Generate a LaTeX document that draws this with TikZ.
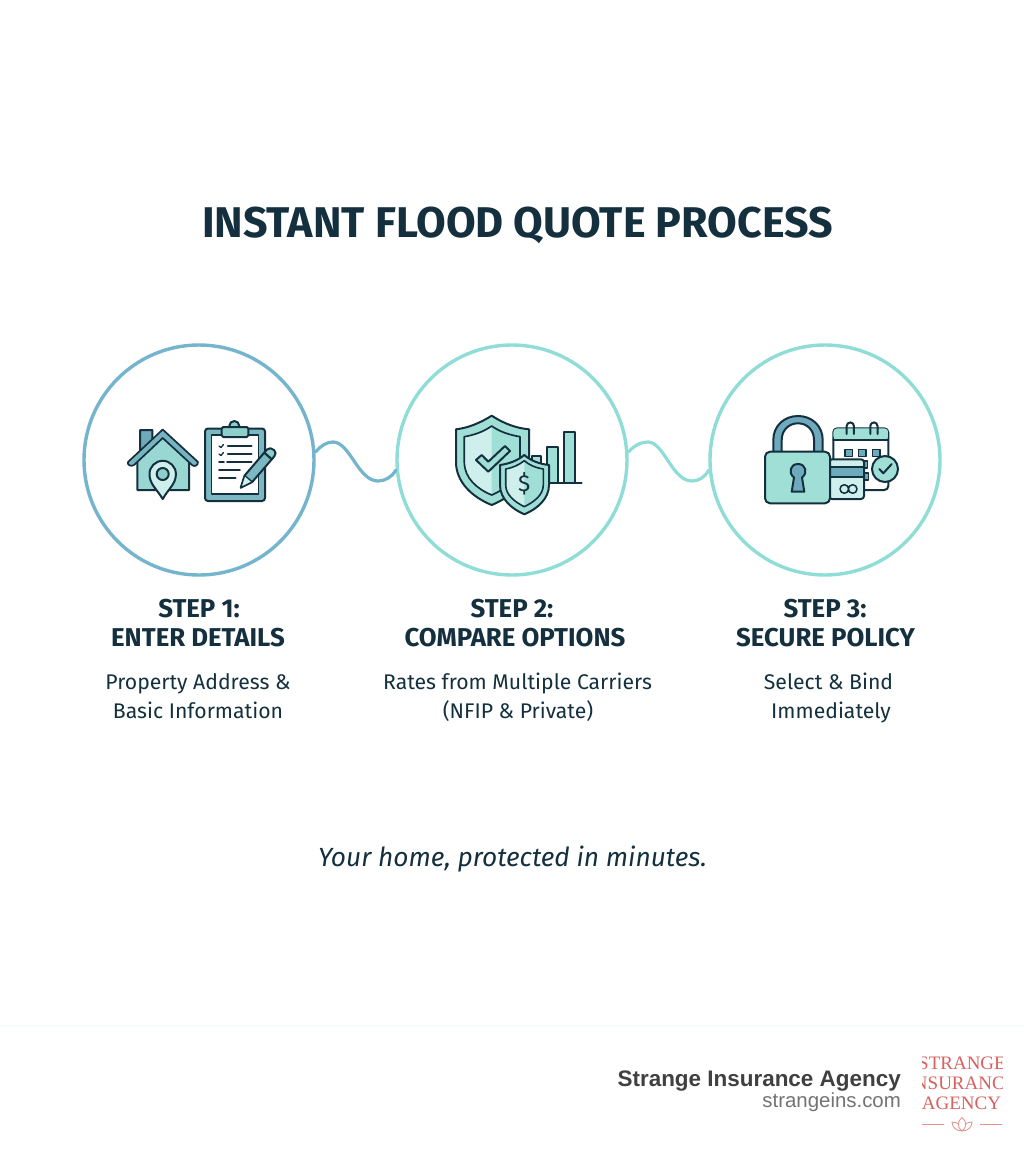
\documentclass[tikz,border=0pt]{standalone}
\usepackage{fontspec}
\setmainfont{Fira Sans}
\newfontfamily\footfont{Liberation Sans}
\newfontfamily\logofont{Liberation Serif}
\usetikzlibrary{calc}
\definecolor{ink}{HTML}{14303F}
\definecolor{blueline}{HTML}{74B4CC}
\definecolor{tealline}{HTML}{8FDDD6}
\definecolor{tealfill}{HTML}{9FDFD6}
\definecolor{tealmid}{HTML}{8CCFCB}
\definecolor{teallight}{HTML}{CFEFEC}
\definecolor{steel}{HTML}{6FA9BC}
\definecolor{logored}{HTML}{D9605F}
\tikzset{
 ring/.style={circle,draw,line width=3.4pt,minimum size=230pt,inner sep=0pt,fill=white},
 wave/.style={line width=3.2pt,line cap=round},
 ico/.style={draw=ink,line width=2pt,line join=round,line cap=round},
 head/.style={font=\fontsize{25.8}{30}\selectfont\bfseries,text=ink,anchor=base},
 body/.style={font=\fontsize{21.2}{29}\selectfont,text=ink,anchor=base},
 logotext/.style={font=\logofont\fontsize{19}{22}\selectfont,text=logored,inner sep=0pt,anchor=base},
}
\begin{document}
\begin{tikzpicture}[x=1pt,y=-1pt]
\useasboundingbox (0,0) rectangle (1024,1154);
\fill[white] (0,0) rectangle (1024,1154);
\draw[line width=1pt,draw=cyan!5] (0,1025) -- (1024,1025);
% title
\node[font=\fontsize{43}{48}\selectfont\bfseries,text=ink,anchor=base] (title) at (517.5,237) {INSTANT FLOOD QUOTE PROCESS};
% rings
\node[ring,draw=blueline] (c1) at (199,460) {};
\node[ring,draw=tealline] (c2) at (512,460) {};
\node[ring,draw=tealline] (c3) at (825,460) {};
% waves
\draw[wave,draw=blueline] (c1.4) .. controls (322,445) and (327,442) .. (333,442) .. controls (350,442) and (358,481) .. (378,481) .. controls (385,481) and (392,477) .. (c2.185);
\draw[wave,draw=tealline] (c2.4) .. controls (635,445) and (641,442) .. (648,442) .. controls (664,442) and (672,481) .. (692,481) .. controls (699,481) and (705,477) .. (c3.185);
% house icon
\draw[ico,fill=steel] (140,451) -- (140,430) -- (152.3,430) -- (152.3,445) -- cycle;
\draw[ico,fill=tealfill!85!steel] (137.3,460) -- (162.7,437) -- (189,460) -- (189,490) -- (137.3,490) -- cycle;
\draw[ico,fill=steel!70!tealmid,line width=1.7pt] (128,462) -- (162.7,429.5) -- (198,462) .. controls (198,466) and (194,467) .. (192,465) -- (162.7,438) -- (134,465) .. controls (131,467) and (127,465) .. (128,462) -- cycle;
\draw[ico,fill=teallight] (162.7,499) .. controls (156,488) and (149.5,484) .. (149.5,474) arc[start angle=180,end angle=360,radius=13.2] .. controls (175.9,484) and (169,488) .. (162.7,499) -- cycle;
\draw[ico,fill=tealmid] (162.7,474) circle[radius=6];
% clipboard icon
\draw[ico,fill=steel!60!tealmid,rounded corners=3pt] (205,428.5) rectangle (265,501);
\draw[ico,fill=white,line width=1.5pt] (211.7,435) rectangle (258.3,494);
\draw[ico,fill=tealmid] (234.3,426) circle[radius=5];
\draw[ico,fill=tealmid,rounded corners=1.5pt] (221.7,427) rectangle (248.3,437);
\draw[ico,line width=1.3pt] (219,446) -- (221,447.5) -- (223.5,444.5) (219,454) -- (221,455.5) -- (223.5,452.5);
\draw[ico,line width=1.6pt] (227.7,446) -- (251.7,446) (227.7,454) -- (251.7,454) (219,462) -- (224,462) (227,462) -- (251.7,462) (219,470) -- (240,470) (219,477.7) -- (235.7,477.7);
\draw[ico,fill=steel!60!tealmid] (240.7,487.7) -- (244.7,475.4) -- (264.3,452.6) -- (271.9,459.2) -- (252.3,481.9) -- cycle;
\draw[ico,fill=tealmid] (264.3,452.6) -- (267,449.5) .. controls (269,447.5) and (272,448) .. (274,450) .. controls (276,452) and (276,454) .. (274.5,456) -- (271.9,459.2) -- cycle;
\draw[ico,fill=teallight,line width=1.3pt] (240.7,487.7) -- (244.7,475.4) -- (252.3,481.9) -- cycle;
% bars
\draw[ico,fill=tealmid!70!white] (531.7,482.7) -- (531.7,455.7) -- (541,455.7) -- (541,482.7);
\draw[ico,fill=tealfill] (546.7,482.7) -- (546.7,447.3) -- (557.7,447.3) -- (557.7,482.7);
\draw[ico,fill=tealfill] (564.3,482.7) -- (564.3,432.3) -- (575,432.3) -- (575,482.7);
\draw[ico] (549,482.7) -- (581.7,482.7);
% big shield
\draw[ico,fill=tealfill] (491.7,415.7) .. controls (480,423) and (468,428) .. (456,429.3) -- (456,462) .. controls (456,482) and (472,497) .. (491.7,505) .. controls (511,497) and (529,482) .. (529,462) -- (529,429.3) .. controls (515,428) and (503,423) .. (491.7,415.7) -- cycle;
\fill[teallight] (491.7,426) .. controls (483,432) and (474,435) .. (464.3,436.7) -- (464.3,462) .. controls (464.3,478) and (477,489) .. (491.7,495) -- cycle;
\draw[ico,line width=1.7pt] (491.7,426) .. controls (483,432) and (474,435) .. (464.3,436.7) -- (464.3,462) .. controls (464.3,478) and (477,489) .. (491.7,495) .. controls (506,489) and (520,478) .. (520,462) -- (520,436.7) .. controls (510,435) and (500,432) .. (491.7,426) -- cycle;
\draw[ico,fill=tealfill] (476,460) -- (481.7,455) -- (488.3,461.7) -- (505,446) -- (510,451) -- (488.3,471.7) -- cycle;
% small shield
\draw[ico,fill=tealfill] (524.3,455) .. controls (517,461) and (508,464) .. (500,465) -- (500,485) .. controls (500,499) and (512,509) .. (524.3,514.3) .. controls (537,509) and (549,499) .. (549,485) -- (549,465) .. controls (540,464) and (531,461) .. (524.3,455) -- cycle;
\fill[teallight] (524.3,460.7) .. controls (519,465) and (512,468) .. (505.7,469) -- (505.7,485) .. controls (505.7,495) and (515,502) .. (524.3,506.7) -- cycle;
\draw[ico,line width=1.6pt] (524.3,460.7) .. controls (519,465) and (512,468) .. (505.7,469) -- (505.7,485) .. controls (505.7,495) and (515,502) .. (524.3,506.7) .. controls (534,502) and (543.3,495) .. (543.3,485) -- (543.3,469) .. controls (536,468) and (529,465) .. (524.3,460.7) -- cycle;
\node[font=\fontsize{23}{24}\selectfont,text=ink,inner sep=0pt] (dollar) at (524.3,483.5) {\$};
% lock
\draw[ico,fill=steel] (773.3,452) -- (773.3,440) .. controls (773.3,426) and (784,416) .. (798,416) .. controls (812,416) and (822.7,426) .. (822.7,440) -- (822.7,452) -- (814,452) -- (814,440) .. controls (814,430) and (807,423.3) .. (798,423.3) .. controls (789,423.3) and (781.7,430) .. (781.7,440) -- (781.7,452) -- cycle;
\draw[ico,fill=white,rounded corners=4pt] (833.3,428.3) rectangle (888.3,490);
\begin{scope}
\clip[rounded corners=4pt] (833.3,428.3) rectangle (888.3,440);
\fill[tealfill] (833,428) rectangle (889,440);
\end{scope}
\draw[ico] (833.3,440) -- (888.3,440);
\draw[ico] (846.7,434) -- (846.7,426) arc[start angle=180,end angle=360,radius=3.6] -- (853.9,434);
\draw[ico] (870.3,434) -- (870.3,426) arc[start angle=180,end angle=360,radius=3.6] -- (877.5,434);
\foreach \xa in {845,858.3,872.3}{
  \draw[ico,fill=steel,line width=1.5pt] (\xa,449.3) rectangle ++(7.7,7.4);
}
\draw[ico,fill=steel,line width=1.5pt] (860,461) rectangle ++(7.7,7);
\draw[ico,fill=steel,line width=1.5pt] (862,473) rectangle ++(6.5,7);
\draw[ico,fill=teallight,rounded corners=3pt] (829,459.3) rectangle (864,499);
\draw[ico,fill=steel] (830,467.3) rectangle (864,476.7);
\draw[ico,line width=1.5pt] (844.3,489) circle[radius=4.3] (852.7,489) circle[radius=4.3];
\draw[ico,fill=tealfill,rounded corners=5pt] (765,451.7) rectangle (830,503.3);
\draw[ico,fill=steel] (794,477.5) .. controls (788,473) and (790,464) .. (798,464) .. controls (806,464) and (808,473) .. (802,477.5) -- (804.3,491.7) -- (791.7,491.7) -- cycle;
\draw[ico,fill=tealfill] (885,469) circle[radius=13];
\draw[ico,line width=2pt] (879.3,469) -- (883.3,473.3) -- (891.7,464);
% step text
\node[head] (s1a) at (199,617) {STEP 1:};
\node[head] (s1b) at (198,646) {ENTER DETAILS};
\node[body] (s1c) at (198,689) {Property Address \&};
\node[body] (s1d) at (198,718) {Basic Information};
\node[head] (s2a) at (512,617) {STEP 2:};
\node[head] (s2b) at (515,646) {COMPARE OPTIONS};
\node[body] (s2c) at (517.5,689) {Rates from Multiple Carriers};
\node[body] (s2d) at (518,718) {(NFIP \& Private)};
\node[head] (s3a) at (825,617) {STEP 3:};
\node[head] (s3b) at (825.5,646) {SECURE POLICY};
\node[body] (s3c) at (828.5,689) {Select \& Bind};
\node[body] (s3d) at (831,718) {Immediately};
% tagline
\node[font=\fontsize{26.3}{32}\selectfont\itshape,text=ink,anchor=base] (tag) at (512.5,866) {Your home, protected in minutes.};
% footer
\node[font=\footfont\fontsize{22.45}{27}\selectfont\bfseries,text=black!75,anchor=base east,inner sep=0pt] (ag) at (901,1086) {Strange Insurance Agency};
\node[font=\footfont\fontsize{20.4}{24}\selectfont,text=black!55,anchor=base east,inner sep=0pt] (url) at (901,1107) {strangeins.com};
% logo
\begin{scope}
\clip (922,1050) rectangle (1002,1135);
\node[logotext] (l1) at (962,1069) {STRANGE};
\node[logotext] (l2) at (962,1089) {INSURANCE};
\node[logotext] (l3) at (961.5,1109) {AGENCY};
\end{scope}
\draw[logored!70,line width=0.9pt] (922,1124.5) -- (944,1124.5) (980,1124.5) -- (1002,1124.5);
\draw[logored!70,line width=0.8pt] (962,1131) .. controls (956,1126) and (958,1121) .. (962,1117.5) .. controls (966,1121) and (968,1126) .. (962,1131) .. controls (956,1131) and (952,1127) .. (952,1122) .. controls (955,1122) and (957,1123) .. (959,1124) (962,1131) .. controls (968,1131) and (972,1127) .. (972,1122) .. controls (969,1122) and (967,1123) .. (965,1124);
\end{tikzpicture}
\end{document}
